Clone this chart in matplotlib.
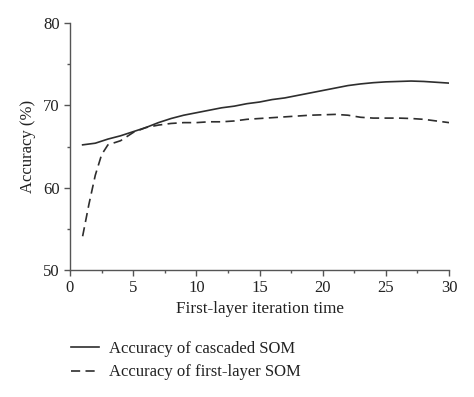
import matplotlib
matplotlib.use("Agg")
import matplotlib.pyplot as plt
from matplotlib.ticker import MultipleLocator

x_cascaded = list(range(1, 31))
acc_cascaded = [65.2, 65.4, 65.9, 66.3, 66.8, 67.3, 67.9, 68.4, 68.8, 69.1,
                69.4, 69.7, 69.9, 70.2, 70.4, 70.7, 70.9, 71.2, 71.5, 71.8,
                72.1, 72.4, 72.6, 72.75, 72.85, 72.9, 72.95, 72.9, 72.8, 72.7]

x_first = [1, 1.5, 2, 2.5, 3, 4, 5, 6, 7, 8, 9, 10, 11, 12, 13, 14, 15, 16, 17, 18,
           19, 20, 21, 22, 23, 24, 25, 26, 27, 28, 29, 30]
acc_first = [54.1, 58.0, 61.5, 64.0, 65.2, 65.7, 66.7, 67.3, 67.6, 67.8, 67.9, 67.9,
             68.0, 68.0, 68.1, 68.3, 68.4, 68.5, 68.6, 68.7, 68.8, 68.85, 68.9, 68.8,
             68.55, 68.45, 68.45, 68.45, 68.4, 68.3, 68.1, 67.9]

labels = ["Accuracy of cascaded SOM", "Accuracy of first-layer SOM"]

plt.rcParams['font.family'] = ['Liberation Serif', 'DejaVu Serif']
plt.rcParams['font.size'] = 12

fig = plt.figure(figsize=(4.74, 3.97), dpi=100)
ax = fig.add_axes([70/474, 1 - 270/397, (449-70)/474, (270-23)/397])

col = '#2e2e2e'
l1, = ax.plot(x_cascaded, acc_cascaded, color=col, lw=1.2, ls='-')
l2, = ax.plot(x_first, acc_first, color=col, lw=1.2, ls=(0, (5.5, 3.2)))

ax.set_xlim(0, 30)
ax.set_ylim(50, 80)
ax.xaxis.set_major_locator(MultipleLocator(5))
ax.xaxis.set_minor_locator(MultipleLocator(2.5))
ax.yaxis.set_major_locator(MultipleLocator(10))
ax.yaxis.set_minor_locator(MultipleLocator(5))
for s in ['top', 'right']:
    ax.spines[s].set_visible(False)
for s in ['left', 'bottom']:
    ax.spines[s].set_color('#555555')
    ax.spines[s].set_linewidth(1.0)
ax.tick_params(which='major', direction='out', length=4, width=1, colors='#555555',
               labelcolor='#222222', labelsize=12)
ax.tick_params(which='minor', direction='out', length=2.5, width=1, colors='#555555')

ax.set_xlabel("First-layer iteration time", fontsize=12.3, color='#222222', labelpad=3)
ax.set_ylabel("Accuracy (%)", fontsize=12, color='#222222', labelpad=5)

fig.legend([l1, l2], labels, loc='upper left', bbox_to_anchor=(66/474, 1 - 336/397),
           frameon=False, fontsize=12, handlelength=1.7, handletextpad=0.6,
           labelspacing=0.45, borderaxespad=0, borderpad=0.3, labelcolor='#222222')

fig.savefig("out.png", dpi=100, facecolor='white')
